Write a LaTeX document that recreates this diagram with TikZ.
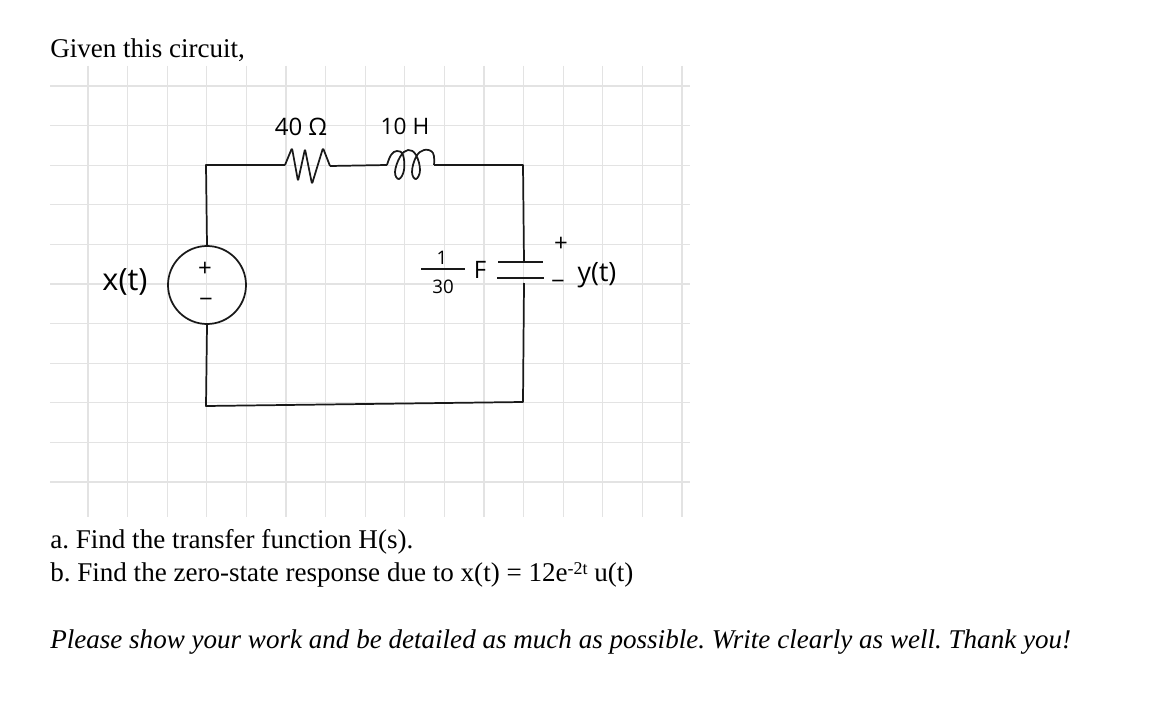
\documentclass[tikz,border=0pt]{standalone}
\usepackage{fontspec}
\setmainfont{Liberation Serif}
\newfontfamily\handfont{Open Sans}
\newcommand{\handsize}[1]{\handfont\fontsize{#1}{#1}\selectfont}
\tikzstyle{gridline} = [draw, black!11, line width=0.8pt]
\tikzstyle{wire} = [draw, black!90, line width=1.3pt, line join=round]
\tikzstyle{task} = [anchor=base west, inner sep=0pt, font=\fontsize{20.3}{22}\selectfont\frenchspacing]
\tikzstyle{hand} = [inner sep=0pt, font=\handsize{18}]

\begin{document}
\begin{tikzpicture}[x=0.75pt, y=-0.75pt]
	\useasboundingbox (0,0) rectangle (1149,706);
	\fill [white] (0,0) rectangle (1149,706);

	\foreach \k in {0,...,15}
		\path [gridline] ({88+39.6*\k},66) -- ({88+39.6*\k},517);
	\foreach \k in {0,...,10}
		\path [gridline] (50,{86+39.6*\k}) -- (690,{86+39.6*\k});

	\node [draw, circle, black!90, line width=1.3pt, minimum size=58.5pt, inner sep=0pt] (src) at (207,285) {};
	\node [hand] (srcplus) at (205,269) {+};
	\node [hand] (srcminus) at (206,303) {−};

	\coordinate (topleft) at (206,165);
	\coordinate (topright) at (523,165);
	\coordinate (botleft) at (206,406);
	\coordinate (botright) at (523,402);
	\coordinate (resL) at (285,165);
	\coordinate (resR) at (330,166);
	\coordinate (indL) at (387,165);
	\coordinate (indR) at (434,165);
	\coordinate (capT) at (524,262);
	\coordinate (capB) at (524,283);
	\coordinate (plateTL) at (498,262);
	\coordinate (plateTR) at (543,262);
	\coordinate (plateBL) at (497,278);
	\coordinate (plateBR) at (544,278);
	\coordinate (barL) at (421,269);
	\coordinate (barR) at (465,269);

	\path [wire] (src.north) -- (topleft) -- (resL);
	\path [wire] (resR) -- (indL);
	\path [wire] (indR) -- (topright) -- (capT);
	\path [wire] (capB) -- (botright) -- (botleft) -- (src.south);
	\path [wire] (plateTL) -- (plateTR);
	\path [wire] (plateBL) -- (plateBR);
	\path [wire, rounded corners=1pt] (resL) -- (292,148) -- (298,181) -- (305,149) -- (312,184) -- (323,148) -- (resR);
	\draw [wire] plot [smooth, tension=0.7] coordinates {(indL) (391,155) (397,151) (403,155) (404,170) (399,179) (395,172) (400,157) (408,150) (416,155) (420,170) (416,179) (412,172) (416,157) (424,150) (433,153) (indR)};
	\path [draw, black!90, line width=1pt] (barL) -- (barR);

	\node [hand, font=\handsize{23}] (xlabel) at (125,282) {x(t)};
	\node [hand, font=\handsize{18}] (rlabel) at (301,127) {40 Ω};
	\node [hand, font=\handsize{17}] (llabel) at (405,126) {10 H};
	\node [hand, font=\handsize{14}] (capnum) at (442,258) {1};
	\node [hand, font=\handsize{14}] (capden) at (443,287) {30};
	\node [hand, font=\handsize{18}] (capunit) at (480,270) {F};
	\node [hand] (yplus) at (561,244) {+};
	\node [hand] (yminus) at (558,285) {−};
	\node [hand, font=\handsize{20}] (ylabel) at (597,275) {y(t)};

	\node [task] (intro) at (50,58) {Given this circuit,};
	\node [task] (parta) at (50,548) {a. Find the transfer function H(s).};
	\node [task] (partb) at (50,581) {b. Find the zero-state response due to x(t) = 12e\raisebox{0.55ex}{\fontsize{13.5}{14}\selectfont -2t} u(t)};
	\node [task, font=\fontsize{20.3}{22}\selectfont\frenchspacing\itshape] (please) at (50,648) {Please show your work and be detailed as much as possible. Write clearly as well. Thank you!};
\end{tikzpicture}
\end{document}
